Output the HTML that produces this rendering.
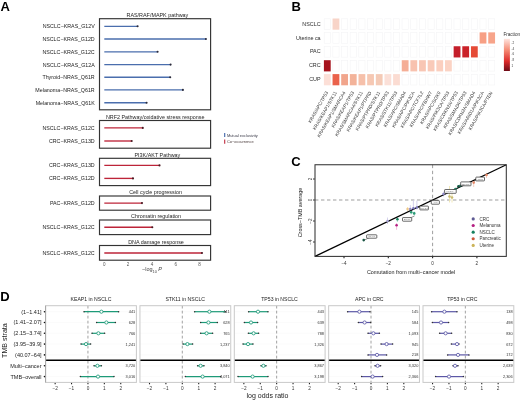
<!DOCTYPE html>
<html><head><meta charset="utf-8"><title>Figure</title>
<style>
html,body{margin:0;padding:0;background:#fff;width:520px;height:400px;overflow:hidden}
svg{display:block}
text{font-family:"Liberation Sans", Arial, Helvetica, sans-serif}
</style></head><body>
<svg width="520" height="400" viewBox="0 0 520 400">
<rect x="0" y="0" width="520" height="400" fill="#fff"/>
<text x="0.5" y="11.2" font-size="13" text-anchor="start" fill="#000" font-weight="bold">A</text>
<text x="291.5" y="11" font-size="13" text-anchor="start" fill="#000" font-weight="bold">B</text>
<text x="291.2" y="166.4" font-size="13" text-anchor="start" fill="#000" font-weight="bold">C</text>
<text x="0.2" y="301.3" font-size="13" text-anchor="start" fill="#000" font-weight="bold">D</text>
<text x="157.4" y="16.91" font-size="5.4" text-anchor="middle" fill="#1e1e1e" stroke="#1e1e1e" stroke-width="0">RAS/RAF/MAPK pathway</text>
<rect x="99.5" y="18.7" width="111.1" height="91.1" fill="#fff" stroke="#333" stroke-width="1.15"/>
<text x="94.7" y="28.21" font-size="5.3" text-anchor="end" fill="#222" stroke="#222" stroke-width="0">NSCLC−KRAS_G12V</text>
<line x1="104.3" y1="26.3" x2="137.6" y2="26.3" stroke="#4a6ead" stroke-width="1.35"/>
<circle cx="137.6" cy="26.3" r="1.05" fill="#2a2a3a" stroke="none" stroke-width="0"/>
<text x="94.7" y="40.91" font-size="5.3" text-anchor="end" fill="#222" stroke="#222" stroke-width="0">NSCLC−KRAS_G12D</text>
<line x1="104.3" y1="39" x2="205.9" y2="39" stroke="#4a6ead" stroke-width="1.35"/>
<circle cx="205.9" cy="39" r="1.05" fill="#2a2a3a" stroke="none" stroke-width="0"/>
<text x="94.7" y="53.71" font-size="5.3" text-anchor="end" fill="#222" stroke="#222" stroke-width="0">NSCLC−KRAS_G12C</text>
<line x1="104.3" y1="51.8" x2="157.6" y2="51.8" stroke="#4a6ead" stroke-width="1.35"/>
<circle cx="157.6" cy="51.8" r="1.05" fill="#2a2a3a" stroke="none" stroke-width="0"/>
<text x="94.7" y="66.51" font-size="5.3" text-anchor="end" fill="#222" stroke="#222" stroke-width="0">NSCLC−KRAS_G12A</text>
<line x1="104.3" y1="64.6" x2="170.6" y2="64.6" stroke="#4a6ead" stroke-width="1.35"/>
<circle cx="170.6" cy="64.6" r="1.05" fill="#2a2a3a" stroke="none" stroke-width="0"/>
<text x="94.7" y="79.11" font-size="5.3" text-anchor="end" fill="#222" stroke="#222" stroke-width="0">Thyroid−NRAS_Q61R</text>
<line x1="104.3" y1="77.2" x2="170.2" y2="77.2" stroke="#4a6ead" stroke-width="1.35"/>
<circle cx="170.2" cy="77.2" r="1.05" fill="#2a2a3a" stroke="none" stroke-width="0"/>
<text x="94.7" y="91.81" font-size="5.3" text-anchor="end" fill="#222" stroke="#222" stroke-width="0">Melanoma−NRAS_Q61R</text>
<line x1="104.3" y1="89.9" x2="182.9" y2="89.9" stroke="#4a6ead" stroke-width="1.35"/>
<circle cx="182.9" cy="89.9" r="1.05" fill="#2a2a3a" stroke="none" stroke-width="0"/>
<text x="94.7" y="104.61" font-size="5.3" text-anchor="end" fill="#222" stroke="#222" stroke-width="0">Melanoma−NRAS_Q61K</text>
<line x1="104.3" y1="102.7" x2="146.6" y2="102.7" stroke="#4a6ead" stroke-width="1.35"/>
<circle cx="146.6" cy="102.7" r="1.05" fill="#2a2a3a" stroke="none" stroke-width="0"/>
<text x="155.2" y="118.71" font-size="5.4" text-anchor="middle" fill="#1e1e1e" stroke="#1e1e1e" stroke-width="0">NRF2 Pathway/oxidative stress response</text>
<rect x="99.5" y="120.5" width="111.1" height="27.7" fill="#fff" stroke="#333" stroke-width="1.15"/>
<text x="94.7" y="129.81" font-size="5.3" text-anchor="end" fill="#222" stroke="#222" stroke-width="0">NSCLC−KRAS_G12C</text>
<line x1="104.3" y1="127.9" x2="142.8" y2="127.9" stroke="#bd2439" stroke-width="1.35"/>
<circle cx="142.8" cy="127.9" r="1.05" fill="#4a1a22" stroke="none" stroke-width="0"/>
<text x="94.7" y="142.91" font-size="5.3" text-anchor="end" fill="#222" stroke="#222" stroke-width="0">CRC−KRAS_G13D</text>
<line x1="104.3" y1="141" x2="131.7" y2="141" stroke="#bd2439" stroke-width="1.35"/>
<circle cx="131.7" cy="141" r="1.05" fill="#4a1a22" stroke="none" stroke-width="0"/>
<text x="157.4" y="156.51" font-size="5.4" text-anchor="middle" fill="#1e1e1e" stroke="#1e1e1e" stroke-width="0">PI3K/AKT Pathway</text>
<rect x="99.5" y="158.3" width="111.1" height="27.3" fill="#fff" stroke="#333" stroke-width="1.15"/>
<text x="94.7" y="167.31" font-size="5.3" text-anchor="end" fill="#222" stroke="#222" stroke-width="0">CRC−KRAS_G13D</text>
<line x1="104.3" y1="165.4" x2="159.5" y2="165.4" stroke="#bd2439" stroke-width="1.35"/>
<circle cx="159.5" cy="165.4" r="1.05" fill="#4a1a22" stroke="none" stroke-width="0"/>
<text x="94.7" y="180.31" font-size="5.3" text-anchor="end" fill="#222" stroke="#222" stroke-width="0">CRC−KRAS_G12D</text>
<line x1="104.3" y1="178.4" x2="133" y2="178.4" stroke="#bd2439" stroke-width="1.35"/>
<circle cx="133" cy="178.4" r="1.05" fill="#4a1a22" stroke="none" stroke-width="0"/>
<text x="155.6" y="194.21" font-size="5.4" text-anchor="middle" fill="#1e1e1e" stroke="#1e1e1e" stroke-width="0">Cell cycle progression</text>
<rect x="99.5" y="196" width="111.1" height="14.2" fill="#fff" stroke="#333" stroke-width="1.15"/>
<text x="94.7" y="205.01" font-size="5.3" text-anchor="end" fill="#222" stroke="#222" stroke-width="0">PAC−KRAS_G12D</text>
<line x1="104.3" y1="203.1" x2="142" y2="203.1" stroke="#bd2439" stroke-width="1.35"/>
<circle cx="142" cy="203.1" r="1.05" fill="#4a1a22" stroke="none" stroke-width="0"/>
<text x="156.1" y="218.21" font-size="5.4" text-anchor="middle" fill="#1e1e1e" stroke="#1e1e1e" stroke-width="0">Chromatin regulation</text>
<rect x="99.5" y="220" width="111.1" height="14.6" fill="#fff" stroke="#333" stroke-width="1.15"/>
<text x="94.7" y="229.11" font-size="5.3" text-anchor="end" fill="#222" stroke="#222" stroke-width="0">NSCLC−KRAS_G12C</text>
<line x1="104.3" y1="227.2" x2="152.3" y2="227.2" stroke="#bd2439" stroke-width="1.35"/>
<circle cx="152.3" cy="227.2" r="1.05" fill="#4a1a22" stroke="none" stroke-width="0"/>
<text x="156" y="243.71" font-size="5.4" text-anchor="middle" fill="#1e1e1e" stroke="#1e1e1e" stroke-width="0">DNA damage response</text>
<rect x="99.5" y="245.5" width="111.1" height="14.7" fill="#fff" stroke="#333" stroke-width="1.15"/>
<text x="94.7" y="254.91" font-size="5.3" text-anchor="end" fill="#222" stroke="#222" stroke-width="0">NSCLC−KRAS_G12C</text>
<line x1="104.3" y1="253" x2="202" y2="253" stroke="#bd2439" stroke-width="1.35"/>
<circle cx="202" cy="253" r="1.05" fill="#4a1a22" stroke="none" stroke-width="0"/>
<text x="104.3" y="265.52" font-size="4.5" text-anchor="middle" fill="#555" stroke="#555" stroke-width="0">0</text>
<text x="128.1" y="265.52" font-size="4.5" text-anchor="middle" fill="#555" stroke="#555" stroke-width="0">2</text>
<text x="151.9" y="265.52" font-size="4.5" text-anchor="middle" fill="#555" stroke="#555" stroke-width="0">4</text>
<text x="175.7" y="265.52" font-size="4.5" text-anchor="middle" fill="#555" stroke="#555" stroke-width="0">6</text>
<text x="199.5" y="265.52" font-size="4.5" text-anchor="middle" fill="#555" stroke="#555" stroke-width="0">8</text>
<text x="152" y="271.42" font-size="5.5" text-anchor="middle" fill="#444" stroke="#444" stroke-width="0">−log<tspan font-size="3.8" dy="1.3">10</tspan><tspan dy="-1.3" font-style="italic"> P</tspan></text>
<line x1="224.7" y1="132.9" x2="224.7" y2="137.1" stroke="#3f64a8" stroke-width="1.1"/>
<line x1="224.7" y1="139.5" x2="224.7" y2="143.7" stroke="#c02a3c" stroke-width="1.1"/>
<text x="226.9" y="136.52" font-size="3.95" text-anchor="start" fill="#3a3a48" stroke="#3a3a48" stroke-width="0">Mutual exclusivity</text>
<text x="226.9" y="142.82" font-size="3.95" text-anchor="start" fill="#483a3a" stroke="#483a3a" stroke-width="0">Co−occurrence</text>
<text x="320.6" y="25.74" font-size="5.4" text-anchor="end" fill="#2a2a2a" stroke="#2a2a2a" stroke-width="0">NSCLC</text>
<text x="320.6" y="39.59" font-size="5.4" text-anchor="end" fill="#2a2a2a" stroke="#2a2a2a" stroke-width="0">Uterine ca</text>
<text x="320.6" y="53.49" font-size="5.4" text-anchor="end" fill="#2a2a2a" stroke="#2a2a2a" stroke-width="0">PAC</text>
<text x="320.6" y="67.44" font-size="5.4" text-anchor="end" fill="#2a2a2a" stroke="#2a2a2a" stroke-width="0">CRC</text>
<text x="320.6" y="81.34" font-size="5.4" text-anchor="end" fill="#2a2a2a" stroke="#2a2a2a" stroke-width="0">CUP</text>
<rect x="324.2" y="18.8" width="6.2" height="10.6" fill="#fff" stroke="#f4f4f6" stroke-width="0.6"/>
<rect x="332.55" y="18.5" width="6.8" height="11.2" fill="#f8d4c8" stroke="none" stroke-width="0"/>
<rect x="341.5" y="18.8" width="6.2" height="10.6" fill="#fff" stroke="#f4f4f6" stroke-width="0.6"/>
<rect x="350.15" y="18.8" width="6.2" height="10.6" fill="#fff" stroke="#f4f4f6" stroke-width="0.6"/>
<rect x="358.8" y="18.8" width="6.2" height="10.6" fill="#fff" stroke="#f4f4f6" stroke-width="0.6"/>
<rect x="367.45" y="18.8" width="6.2" height="10.6" fill="#fff" stroke="#f4f4f6" stroke-width="0.6"/>
<rect x="376.1" y="18.8" width="6.2" height="10.6" fill="#fff" stroke="#f4f4f6" stroke-width="0.6"/>
<rect x="384.75" y="18.8" width="6.2" height="10.6" fill="#fff" stroke="#f4f4f6" stroke-width="0.6"/>
<rect x="393.4" y="18.8" width="6.2" height="10.6" fill="#fff" stroke="#f4f4f6" stroke-width="0.6"/>
<rect x="402.05" y="18.8" width="6.2" height="10.6" fill="#fff" stroke="#f4f4f6" stroke-width="0.6"/>
<rect x="410.7" y="18.8" width="6.2" height="10.6" fill="#fff" stroke="#f4f4f6" stroke-width="0.6"/>
<rect x="419.35" y="18.8" width="6.2" height="10.6" fill="#fff" stroke="#f4f4f6" stroke-width="0.6"/>
<rect x="428" y="18.8" width="6.2" height="10.6" fill="#fff" stroke="#f4f4f6" stroke-width="0.6"/>
<rect x="436.65" y="18.8" width="6.2" height="10.6" fill="#fff" stroke="#f4f4f6" stroke-width="0.6"/>
<rect x="445.3" y="18.8" width="6.2" height="10.6" fill="#fff" stroke="#f4f4f6" stroke-width="0.6"/>
<rect x="453.95" y="18.8" width="6.2" height="10.6" fill="#fff" stroke="#f4f4f6" stroke-width="0.6"/>
<rect x="462.6" y="18.8" width="6.2" height="10.6" fill="#fff" stroke="#f4f4f6" stroke-width="0.6"/>
<rect x="471.25" y="18.8" width="6.2" height="10.6" fill="#fff" stroke="#f4f4f6" stroke-width="0.6"/>
<rect x="479.9" y="18.8" width="6.2" height="10.6" fill="#fff" stroke="#f4f4f6" stroke-width="0.6"/>
<rect x="488.55" y="18.8" width="6.2" height="10.6" fill="#fff" stroke="#f4f4f6" stroke-width="0.6"/>
<rect x="324.2" y="32.65" width="6.2" height="10.6" fill="#fff" stroke="#f4f4f6" stroke-width="0.6"/>
<rect x="332.85" y="32.65" width="6.2" height="10.6" fill="#fff" stroke="#f4f4f6" stroke-width="0.6"/>
<rect x="341.5" y="32.65" width="6.2" height="10.6" fill="#fff" stroke="#f4f4f6" stroke-width="0.6"/>
<rect x="350.15" y="32.65" width="6.2" height="10.6" fill="#fff" stroke="#f4f4f6" stroke-width="0.6"/>
<rect x="358.8" y="32.65" width="6.2" height="10.6" fill="#fff" stroke="#f4f4f6" stroke-width="0.6"/>
<rect x="367.45" y="32.65" width="6.2" height="10.6" fill="#fff" stroke="#f4f4f6" stroke-width="0.6"/>
<rect x="376.1" y="32.65" width="6.2" height="10.6" fill="#fff" stroke="#f4f4f6" stroke-width="0.6"/>
<rect x="384.75" y="32.65" width="6.2" height="10.6" fill="#fff" stroke="#f4f4f6" stroke-width="0.6"/>
<rect x="393.4" y="32.65" width="6.2" height="10.6" fill="#fff" stroke="#f4f4f6" stroke-width="0.6"/>
<rect x="402.05" y="32.65" width="6.2" height="10.6" fill="#fff" stroke="#f4f4f6" stroke-width="0.6"/>
<rect x="410.7" y="32.65" width="6.2" height="10.6" fill="#fff" stroke="#f4f4f6" stroke-width="0.6"/>
<rect x="419.35" y="32.65" width="6.2" height="10.6" fill="#fff" stroke="#f4f4f6" stroke-width="0.6"/>
<rect x="428" y="32.65" width="6.2" height="10.6" fill="#fff" stroke="#f4f4f6" stroke-width="0.6"/>
<rect x="436.65" y="32.65" width="6.2" height="10.6" fill="#fff" stroke="#f4f4f6" stroke-width="0.6"/>
<rect x="445.3" y="32.65" width="6.2" height="10.6" fill="#fff" stroke="#f4f4f6" stroke-width="0.6"/>
<rect x="453.95" y="32.65" width="6.2" height="10.6" fill="#fff" stroke="#f4f4f6" stroke-width="0.6"/>
<rect x="462.6" y="32.65" width="6.2" height="10.6" fill="#fff" stroke="#f4f4f6" stroke-width="0.6"/>
<rect x="471.25" y="32.65" width="6.2" height="10.6" fill="#fff" stroke="#f4f4f6" stroke-width="0.6"/>
<rect x="479.6" y="32.35" width="6.8" height="11.2" fill="#f79f84" stroke="none" stroke-width="0"/>
<rect x="488.25" y="32.35" width="6.8" height="11.2" fill="#f7a48a" stroke="none" stroke-width="0"/>
<rect x="324.2" y="46.55" width="6.2" height="10.6" fill="#fff" stroke="#f4f4f6" stroke-width="0.6"/>
<rect x="332.85" y="46.55" width="6.2" height="10.6" fill="#fff" stroke="#f4f4f6" stroke-width="0.6"/>
<rect x="341.5" y="46.55" width="6.2" height="10.6" fill="#fff" stroke="#f4f4f6" stroke-width="0.6"/>
<rect x="350.15" y="46.55" width="6.2" height="10.6" fill="#fff" stroke="#f4f4f6" stroke-width="0.6"/>
<rect x="358.8" y="46.55" width="6.2" height="10.6" fill="#fff" stroke="#f4f4f6" stroke-width="0.6"/>
<rect x="367.45" y="46.55" width="6.2" height="10.6" fill="#fff" stroke="#f4f4f6" stroke-width="0.6"/>
<rect x="376.1" y="46.55" width="6.2" height="10.6" fill="#fff" stroke="#f4f4f6" stroke-width="0.6"/>
<rect x="384.75" y="46.55" width="6.2" height="10.6" fill="#fff" stroke="#f4f4f6" stroke-width="0.6"/>
<rect x="393.4" y="46.55" width="6.2" height="10.6" fill="#fff" stroke="#f4f4f6" stroke-width="0.6"/>
<rect x="402.05" y="46.55" width="6.2" height="10.6" fill="#fff" stroke="#f4f4f6" stroke-width="0.6"/>
<rect x="410.7" y="46.55" width="6.2" height="10.6" fill="#fff" stroke="#f4f4f6" stroke-width="0.6"/>
<rect x="419.35" y="46.55" width="6.2" height="10.6" fill="#fff" stroke="#f4f4f6" stroke-width="0.6"/>
<rect x="428" y="46.55" width="6.2" height="10.6" fill="#fff" stroke="#f4f4f6" stroke-width="0.6"/>
<rect x="436.65" y="46.55" width="6.2" height="10.6" fill="#fff" stroke="#f4f4f6" stroke-width="0.6"/>
<rect x="445.3" y="46.55" width="6.2" height="10.6" fill="#fff" stroke="#f4f4f6" stroke-width="0.6"/>
<rect x="453.65" y="46.25" width="6.8" height="11.2" fill="#c41e2a" stroke="none" stroke-width="0"/>
<rect x="462.3" y="46.25" width="6.8" height="11.2" fill="#ca2229" stroke="none" stroke-width="0"/>
<rect x="470.95" y="46.25" width="6.8" height="11.2" fill="#e54a36" stroke="none" stroke-width="0"/>
<rect x="479.9" y="46.55" width="6.2" height="10.6" fill="#fff" stroke="#f4f4f6" stroke-width="0.6"/>
<rect x="488.55" y="46.55" width="6.2" height="10.6" fill="#fff" stroke="#f4f4f6" stroke-width="0.6"/>
<rect x="323.9" y="60.2" width="6.8" height="11.2" fill="#a6131d" stroke="none" stroke-width="0"/>
<rect x="332.85" y="60.5" width="6.2" height="10.6" fill="#fff" stroke="#f4f4f6" stroke-width="0.6"/>
<rect x="341.5" y="60.5" width="6.2" height="10.6" fill="#fff" stroke="#f4f4f6" stroke-width="0.6"/>
<rect x="350.15" y="60.5" width="6.2" height="10.6" fill="#fff" stroke="#f4f4f6" stroke-width="0.6"/>
<rect x="358.8" y="60.5" width="6.2" height="10.6" fill="#fff" stroke="#f4f4f6" stroke-width="0.6"/>
<rect x="367.45" y="60.5" width="6.2" height="10.6" fill="#fff" stroke="#f4f4f6" stroke-width="0.6"/>
<rect x="376.1" y="60.5" width="6.2" height="10.6" fill="#fff" stroke="#f4f4f6" stroke-width="0.6"/>
<rect x="384.75" y="60.5" width="6.2" height="10.6" fill="#fff" stroke="#f4f4f6" stroke-width="0.6"/>
<rect x="393.4" y="60.5" width="6.2" height="10.6" fill="#fff" stroke="#f4f4f6" stroke-width="0.6"/>
<rect x="401.75" y="60.2" width="6.8" height="11.2" fill="#f5ae96" stroke="none" stroke-width="0"/>
<rect x="410.4" y="60.2" width="6.8" height="11.2" fill="#f8c2af" stroke="none" stroke-width="0"/>
<rect x="419.05" y="60.2" width="6.8" height="11.2" fill="#f8c6b4" stroke="none" stroke-width="0"/>
<rect x="427.7" y="60.2" width="6.8" height="11.2" fill="#f9cab9" stroke="none" stroke-width="0"/>
<rect x="436.35" y="60.2" width="6.8" height="11.2" fill="#fbcfbf" stroke="none" stroke-width="0"/>
<rect x="445" y="60.2" width="6.8" height="11.2" fill="#fbd3c4" stroke="none" stroke-width="0"/>
<rect x="453.95" y="60.5" width="6.2" height="10.6" fill="#fff" stroke="#f4f4f6" stroke-width="0.6"/>
<rect x="462.6" y="60.5" width="6.2" height="10.6" fill="#fff" stroke="#f4f4f6" stroke-width="0.6"/>
<rect x="471.25" y="60.5" width="6.2" height="10.6" fill="#fff" stroke="#f4f4f6" stroke-width="0.6"/>
<rect x="479.9" y="60.5" width="6.2" height="10.6" fill="#fff" stroke="#f4f4f6" stroke-width="0.6"/>
<rect x="488.55" y="60.5" width="6.2" height="10.6" fill="#fff" stroke="#f4f4f6" stroke-width="0.6"/>
<rect x="323.9" y="74.1" width="6.8" height="11.2" fill="#fcdfd7" stroke="none" stroke-width="0"/>
<rect x="332.55" y="74.1" width="6.8" height="11.2" fill="#ea624b" stroke="none" stroke-width="0"/>
<rect x="341.2" y="74.1" width="6.8" height="11.2" fill="#f1a58c" stroke="none" stroke-width="0"/>
<rect x="349.85" y="74.1" width="6.8" height="11.2" fill="#f3b39a" stroke="none" stroke-width="0"/>
<rect x="358.5" y="74.1" width="6.8" height="11.2" fill="#f6c0aa" stroke="none" stroke-width="0"/>
<rect x="367.15" y="74.1" width="6.8" height="11.2" fill="#f6c8b3" stroke="none" stroke-width="0"/>
<rect x="375.8" y="74.1" width="6.8" height="11.2" fill="#f4cab6" stroke="none" stroke-width="0"/>
<rect x="384.45" y="74.1" width="6.8" height="11.2" fill="#fbe0d8" stroke="none" stroke-width="0"/>
<rect x="393.1" y="74.1" width="6.8" height="11.2" fill="#fbdcd2" stroke="none" stroke-width="0"/>
<rect x="402.05" y="74.4" width="6.2" height="10.6" fill="#fff" stroke="#f4f4f6" stroke-width="0.6"/>
<rect x="410.7" y="74.4" width="6.2" height="10.6" fill="#fff" stroke="#f4f4f6" stroke-width="0.6"/>
<rect x="419.35" y="74.4" width="6.2" height="10.6" fill="#fff" stroke="#f4f4f6" stroke-width="0.6"/>
<rect x="428" y="74.4" width="6.2" height="10.6" fill="#fff" stroke="#f4f4f6" stroke-width="0.6"/>
<rect x="436.65" y="74.4" width="6.2" height="10.6" fill="#fff" stroke="#f4f4f6" stroke-width="0.6"/>
<rect x="445.3" y="74.4" width="6.2" height="10.6" fill="#fff" stroke="#f4f4f6" stroke-width="0.6"/>
<rect x="453.95" y="74.4" width="6.2" height="10.6" fill="#fff" stroke="#f4f4f6" stroke-width="0.6"/>
<rect x="462.6" y="74.4" width="6.2" height="10.6" fill="#fff" stroke="#f4f4f6" stroke-width="0.6"/>
<rect x="471.25" y="74.4" width="6.2" height="10.6" fill="#fff" stroke="#f4f4f6" stroke-width="0.6"/>
<rect x="479.9" y="74.4" width="6.2" height="10.6" fill="#fff" stroke="#f4f4f6" stroke-width="0.6"/>
<rect x="488.55" y="74.4" width="6.2" height="10.6" fill="#fff" stroke="#f4f4f6" stroke-width="0.6"/>
<text x="327" y="93.4" font-size="4.6" text-anchor="end" fill="#333" transform="rotate(-60 327 91.8)" stroke="#333" stroke-width="0">KRAS/APC/TP53</text>
<text x="335.65" y="93.4" font-size="4.6" text-anchor="end" fill="#333" transform="rotate(-60 335.65 91.8)" stroke="#333" stroke-width="0">KRAS/KEAP1/STK11</text>
<text x="344.3" y="93.4" font-size="4.6" text-anchor="end" fill="#333" transform="rotate(-60 344.3 91.8)" stroke="#333" stroke-width="0">KRAS/KEAP1/SMARCA4</text>
<text x="352.95" y="93.4" font-size="4.6" text-anchor="end" fill="#333" transform="rotate(-60 352.95 91.8)" stroke="#333" stroke-width="0">KRAS/KEAP1/TP53</text>
<text x="361.6" y="93.4" font-size="4.6" text-anchor="end" fill="#333" transform="rotate(-60 361.6 91.8)" stroke="#333" stroke-width="0">KRAS/SMARCA4/STK11</text>
<text x="370.25" y="93.4" font-size="4.6" text-anchor="end" fill="#333" transform="rotate(-60 370.25 91.8)" stroke="#333" stroke-width="0">KRAS/KEAP1/PTPRD</text>
<text x="378.9" y="93.4" font-size="4.6" text-anchor="end" fill="#333" transform="rotate(-60 378.9 91.8)" stroke="#333" stroke-width="0">KRAS/PTPRD/STK11</text>
<text x="387.55" y="93.4" font-size="4.6" text-anchor="end" fill="#333" transform="rotate(-60 387.55 91.8)" stroke="#333" stroke-width="0">KRAS/PTPRD/TP53</text>
<text x="396.2" y="93.4" font-size="4.6" text-anchor="end" fill="#333" transform="rotate(-60 396.2 91.8)" stroke="#333" stroke-width="0">KRAS/STK11/TP53</text>
<text x="404.85" y="93.4" font-size="4.6" text-anchor="end" fill="#333" transform="rotate(-60 404.85 91.8)" stroke="#333" stroke-width="0">KRAS/APC/SMAD4</text>
<text x="413.5" y="93.4" font-size="4.6" text-anchor="end" fill="#333" transform="rotate(-60 413.5 91.8)" stroke="#333" stroke-width="0">KRAS/APC/PIK3CA</text>
<text x="422.15" y="93.4" font-size="4.6" text-anchor="end" fill="#333" transform="rotate(-60 422.15 91.8)" stroke="#333" stroke-width="0">KRAS/APC/TCF7L2</text>
<text x="430.8" y="93.4" font-size="4.6" text-anchor="end" fill="#333" transform="rotate(-60 430.8 91.8)" stroke="#333" stroke-width="0">KRAS/APC/FBXW7</text>
<text x="439.45" y="93.4" font-size="4.6" text-anchor="end" fill="#333" transform="rotate(-60 439.45 91.8)" stroke="#333" stroke-width="0">KRAS/APC/SOX9</text>
<text x="448.1" y="93.4" font-size="4.6" text-anchor="end" fill="#333" transform="rotate(-60 448.1 91.8)" stroke="#333" stroke-width="0">KRAS/PIK3CA/TP53</text>
<text x="456.75" y="93.4" font-size="4.6" text-anchor="end" fill="#333" transform="rotate(-60 456.75 91.8)" stroke="#333" stroke-width="0">KRAS/CDKN2A/TP53</text>
<text x="465.4" y="93.4" font-size="4.6" text-anchor="end" fill="#333" transform="rotate(-60 465.4 91.8)" stroke="#333" stroke-width="0">KRAS/SMAD4/TP53</text>
<text x="474.05" y="93.4" font-size="4.6" text-anchor="end" fill="#333" transform="rotate(-60 474.05 91.8)" stroke="#333" stroke-width="0">KRAS/CDKN2A/SMAD4</text>
<text x="482.7" y="93.4" font-size="4.6" text-anchor="end" fill="#333" transform="rotate(-60 482.7 91.8)" stroke="#333" stroke-width="0">KRAS/ARID1A/PIK3CA</text>
<text x="491.35" y="93.4" font-size="4.6" text-anchor="end" fill="#333" transform="rotate(-60 491.35 91.8)" stroke="#333" stroke-width="0">KRAS/PIK3CA/PTEN</text>
<defs><linearGradient id="gb" x1="0" y1="0" x2="0" y2="1"><stop offset="0" stop-color="#fee5df"/><stop offset="0.35" stop-color="#f58b75"/><stop offset="0.7" stop-color="#dc2a2a"/><stop offset="1" stop-color="#6d0a16"/></linearGradient></defs>
<text x="503.4" y="36.26" font-size="4.6" text-anchor="start" fill="#333" stroke="#333" stroke-width="0">Fraction</text>
<rect x="503.9" y="38.8" width="6" height="32.2" fill="url(#gb)" stroke="none" stroke-width="0"/>
<line x1="509.9" y1="42.9" x2="510.8" y2="42.9" stroke="#fff" stroke-width="0.5"/>
<text x="511.6" y="43.98" font-size="3" text-anchor="start" fill="#333" stroke="#333" stroke-width="0">.2</text>
<line x1="509.9" y1="48.7" x2="510.8" y2="48.7" stroke="#fff" stroke-width="0.5"/>
<text x="511.6" y="49.78" font-size="3" text-anchor="start" fill="#333" stroke="#333" stroke-width="0">.4</text>
<line x1="509.9" y1="54.4" x2="510.8" y2="54.4" stroke="#fff" stroke-width="0.5"/>
<text x="511.6" y="55.48" font-size="3" text-anchor="start" fill="#333" stroke="#333" stroke-width="0">.6</text>
<line x1="509.9" y1="60.1" x2="510.8" y2="60.1" stroke="#fff" stroke-width="0.5"/>
<text x="511.6" y="61.18" font-size="3" text-anchor="start" fill="#333" stroke="#333" stroke-width="0">.8</text>
<line x1="509.9" y1="65.9" x2="510.8" y2="65.9" stroke="#fff" stroke-width="0.5"/>
<text x="511.6" y="66.98" font-size="3" text-anchor="start" fill="#333" stroke="#333" stroke-width="0">1</text>
<rect x="315" y="164.75" width="191.3" height="91.65" fill="#fff" stroke="none" stroke-width="0"/>
<line x1="432.6" y1="164.75" x2="432.6" y2="256.4" stroke="#999" stroke-width="0.95" stroke-dasharray="3.4 2.6"/>
<line x1="315" y1="200" x2="506.3" y2="200" stroke="#999" stroke-width="0.95" stroke-dasharray="3.4 2.6"/>
<line x1="387.5" y1="217.5" x2="387.5" y2="224" stroke="#d2cfeb" stroke-width="0.9"/>
<line x1="396.6" y1="223" x2="396.6" y2="229.8" stroke="#f0b4d8" stroke-width="0.9"/>
<line x1="397.4" y1="216.8" x2="397.4" y2="222" stroke="#a8dccb" stroke-width="0.9"/>
<line x1="407.6" y1="207" x2="407.6" y2="211" stroke="#f6dfb0" stroke-width="0.9"/>
<line x1="410.3" y1="205" x2="410.3" y2="211" stroke="#d7d3ee" stroke-width="0.9"/>
<line x1="413.4" y1="200.2" x2="413.4" y2="209.8" stroke="#cfcbea" stroke-width="0.9"/>
<line x1="416.9" y1="200.5" x2="416.9" y2="209.5" stroke="#cfcbea" stroke-width="0.9"/>
<line x1="411.2" y1="210" x2="411.2" y2="214.5" stroke="#a8dccb" stroke-width="0.9"/>
<line x1="414.2" y1="211.5" x2="414.2" y2="215.5" stroke="#a8dccb" stroke-width="0.9"/>
<line x1="363.7" y1="239" x2="363.7" y2="241.5" stroke="#c8eadf" stroke-width="0.9"/>
<line x1="443.5" y1="191.5" x2="443.5" y2="196.5" stroke="#d7d3ee" stroke-width="0.9"/>
<line x1="449.5" y1="186" x2="449.5" y2="202.5" stroke="#eee4b0" stroke-width="0.9"/>
<line x1="452" y1="193" x2="452" y2="202.5" stroke="#eee4b0" stroke-width="0.9"/>
<line x1="455.5" y1="188" x2="455.5" y2="190.5" stroke="#a8dccb" stroke-width="0.9"/>
<line x1="458.5" y1="185" x2="458.5" y2="187.5" stroke="#a8dccb" stroke-width="0.9"/>
<line x1="460.5" y1="184.8" x2="460.5" y2="187" stroke="#a8dccb" stroke-width="0.9"/>
<line x1="473.7" y1="180" x2="473.7" y2="187" stroke="#f6cdbd" stroke-width="0.9"/>
<line x1="486.5" y1="173" x2="486.5" y2="178" stroke="#f6cdbd" stroke-width="0.9"/>
<line x1="315" y1="256.4" x2="506.3" y2="164.75" stroke="#000" stroke-width="1.3"/>
<circle cx="387.5" cy="221" r="1.3" fill="#a9a4d4" stroke="none" stroke-width="0"/>
<circle cx="396.6" cy="225.3" r="1.3" fill="#b51f82" stroke="none" stroke-width="0"/>
<circle cx="397.4" cy="219.3" r="1.3" fill="#16805f" stroke="none" stroke-width="0"/>
<circle cx="407.6" cy="209" r="1.3" fill="#efc98a" stroke="none" stroke-width="0"/>
<circle cx="410.3" cy="209" r="1.3" fill="#8d88c4" stroke="none" stroke-width="0"/>
<circle cx="413.4" cy="208.2" r="1.3" fill="#7c77bb" stroke="none" stroke-width="0"/>
<circle cx="416.9" cy="207.5" r="1.3" fill="#7c77bb" stroke="none" stroke-width="0"/>
<circle cx="411.2" cy="212.2" r="1.3" fill="#2a9a76" stroke="none" stroke-width="0"/>
<circle cx="414.2" cy="213.4" r="1.3" fill="#2a9a76" stroke="none" stroke-width="0"/>
<circle cx="363.7" cy="240.1" r="1.3" fill="#1a5e4a" stroke="none" stroke-width="0"/>
<circle cx="443.5" cy="194" r="1.3" fill="#8d88c4" stroke="none" stroke-width="0"/>
<circle cx="449.5" cy="196.5" r="1.3" fill="#c9bb70" stroke="none" stroke-width="0"/>
<circle cx="452" cy="197.5" r="1.3" fill="#c9bb70" stroke="none" stroke-width="0"/>
<circle cx="455.5" cy="189" r="1.3" fill="#1f7e62" stroke="none" stroke-width="0"/>
<circle cx="458.5" cy="186.3" r="1.3" fill="#155a46" stroke="none" stroke-width="0"/>
<circle cx="460.5" cy="185.8" r="1.3" fill="#155a46" stroke="none" stroke-width="0"/>
<circle cx="473.7" cy="182.6" r="1.3" fill="#e48a6a" stroke="none" stroke-width="0"/>
<circle cx="486.5" cy="175" r="1.3" fill="#e48a6a" stroke="none" stroke-width="0"/>
<line x1="363.7" y1="240.4" x2="371.7" y2="236.5" stroke="#222" stroke-width="0.5"/>
<line x1="414.5" y1="216" x2="407.1" y2="219.4" stroke="#222" stroke-width="0.5"/>
<line x1="418" y1="207.5" x2="424.1" y2="208" stroke="#222" stroke-width="0.5"/>
<line x1="430" y1="201" x2="435.35" y2="202.4" stroke="#222" stroke-width="0.5"/>
<line x1="444.6" y1="191" x2="450.4" y2="191.4" stroke="#222" stroke-width="0.5"/>
<line x1="460" y1="186" x2="465.85" y2="183.85" stroke="#222" stroke-width="0.5"/>
<line x1="474" y1="181" x2="480.15" y2="179" stroke="#222" stroke-width="0.5"/>
<rect x="366.6" y="234.8" width="10.2" height="3.4" fill="#fff" stroke="#2a2a2a" stroke-width="0.7" rx="0.6"/>
<text x="371.7" y="237.15" font-size="2.2" text-anchor="middle" fill="#777" stroke="#777" stroke-width="0">KEAP1</text>
<rect x="402.5" y="217.6" width="9.2" height="3.6" fill="#fff" stroke="#2a2a2a" stroke-width="0.7" rx="0.6"/>
<text x="407.1" y="220.15" font-size="2.2" text-anchor="middle" fill="#777" stroke="#777" stroke-width="0">STK11</text>
<rect x="419.8" y="206.1" width="8.6" height="3.8" fill="#fff" stroke="#2a2a2a" stroke-width="0.7" rx="0.6"/>
<text x="424.1" y="208.85" font-size="2.2" text-anchor="middle" fill="#777" stroke="#777" stroke-width="0">SMAD4</text>
<rect x="431.3" y="200.6" width="8.1" height="3.6" fill="#fff" stroke="#2a2a2a" stroke-width="0.7" rx="0.6"/>
<text x="435.35" y="203.15" font-size="2.2" text-anchor="middle" fill="#777" stroke="#777" stroke-width="0">APC</text>
<rect x="444.6" y="189.5" width="11.6" height="3.8" fill="#fff" stroke="#2a2a2a" stroke-width="0.7" rx="0.6"/>
<text x="450.4" y="192.25" font-size="2.2" text-anchor="middle" fill="#777" stroke="#777" stroke-width="0">PIK3CA</text>
<rect x="460.7" y="181.9" width="10.3" height="3.9" fill="#fff" stroke="#2a2a2a" stroke-width="0.7" rx="0.6"/>
<text x="465.85" y="184.75" font-size="2.2" text-anchor="middle" fill="#777" stroke="#777" stroke-width="0">CDKN2A</text>
<rect x="475.8" y="177.1" width="8.7" height="3.8" fill="#fff" stroke="#2a2a2a" stroke-width="0.7" rx="0.6"/>
<text x="480.15" y="179.85" font-size="2.2" text-anchor="middle" fill="#777" stroke="#777" stroke-width="0">TP53</text>
<rect x="315" y="164.75" width="191.3" height="91.65" fill="none" stroke="#333" stroke-width="1.05"/>
<line x1="344" y1="256.7" x2="344" y2="258.3" stroke="#222" stroke-width="1.1"/>
<text x="344" y="264.86" font-size="4.6" text-anchor="middle" fill="#333" stroke="#333" stroke-width="0">−4</text>
<line x1="388.3" y1="256.7" x2="388.3" y2="258.3" stroke="#222" stroke-width="1.1"/>
<text x="388.3" y="264.86" font-size="4.6" text-anchor="middle" fill="#333" stroke="#333" stroke-width="0">−2</text>
<line x1="432.6" y1="256.7" x2="432.6" y2="258.3" stroke="#222" stroke-width="1.1"/>
<text x="432.6" y="264.86" font-size="4.6" text-anchor="middle" fill="#333" stroke="#333" stroke-width="0">0</text>
<line x1="476.9" y1="256.7" x2="476.9" y2="258.3" stroke="#222" stroke-width="1.1"/>
<text x="476.9" y="264.86" font-size="4.6" text-anchor="middle" fill="#333" stroke="#333" stroke-width="0">2</text>
<line x1="313.1" y1="179" x2="314.7" y2="179" stroke="#222" stroke-width="1.1"/>
<text x="310.3" y="179" font-size="4.6" text-anchor="middle" fill="#444" transform="rotate(-90 310.3 179) translate(0 1.6)" stroke="#444" stroke-width="0">2</text>
<line x1="313.1" y1="200" x2="314.7" y2="200" stroke="#222" stroke-width="1.1"/>
<text x="310.3" y="200" font-size="4.6" text-anchor="middle" fill="#444" transform="rotate(-90 310.3 200) translate(0 1.6)" stroke="#444" stroke-width="0">0</text>
<line x1="313.1" y1="221" x2="314.7" y2="221" stroke="#222" stroke-width="1.1"/>
<text x="310.3" y="221" font-size="4.6" text-anchor="middle" fill="#444" transform="rotate(-90 310.3 221) translate(0 1.6)" stroke="#444" stroke-width="0">−2</text>
<line x1="313.1" y1="242" x2="314.7" y2="242" stroke="#222" stroke-width="1.1"/>
<text x="310.3" y="242" font-size="4.6" text-anchor="middle" fill="#444" transform="rotate(-90 310.3 242) translate(0 1.6)" stroke="#444" stroke-width="0">−4</text>
<text x="411" y="274.14" font-size="5.4" text-anchor="middle" fill="#222" stroke="#222" stroke-width="0">Comutation from multi−cancer model</text>
<text x="300.4" y="212.5" font-size="5.4" text-anchor="middle" fill="#222" transform="rotate(-90 300.4 212.5) translate(0 1.9)" stroke="#222" stroke-width="0">Cross−TMB average</text>
<circle cx="473.2" cy="218.9" r="1.6" fill="#5f5b94" stroke="none" stroke-width="0"/>
<text x="479.6" y="220.52" font-size="4.5" text-anchor="start" fill="#333" stroke="#333" stroke-width="0">CRC</text>
<circle cx="473.2" cy="225.52" r="1.6" fill="#b51f82" stroke="none" stroke-width="0"/>
<text x="479.6" y="227.14" font-size="4.5" text-anchor="start" fill="#333" stroke="#333" stroke-width="0">Melanoma</text>
<circle cx="473.2" cy="232.14" r="1.6" fill="#16805f" stroke="none" stroke-width="0"/>
<text x="479.6" y="233.76" font-size="4.5" text-anchor="start" fill="#333" stroke="#333" stroke-width="0">NSCLC</text>
<circle cx="473.2" cy="238.76" r="1.6" fill="#cc563a" stroke="none" stroke-width="0"/>
<text x="479.6" y="240.38" font-size="4.5" text-anchor="start" fill="#333" stroke="#333" stroke-width="0">Pancreatic</text>
<circle cx="473.2" cy="245.38" r="1.6" fill="#cbb45a" stroke="none" stroke-width="0"/>
<text x="479.6" y="247" font-size="4.5" text-anchor="start" fill="#333" stroke="#333" stroke-width="0">Uterine</text>
<rect x="45.6" y="305.7" width="90.8" height="76.7" fill="#fff" stroke="none" stroke-width="0"/>
<line x1="45.6" y1="311.7" x2="136.4" y2="311.7" stroke="#f6f6f6" stroke-width="0.5"/>
<line x1="45.6" y1="322.5" x2="136.4" y2="322.5" stroke="#f6f6f6" stroke-width="0.5"/>
<line x1="45.6" y1="333.3" x2="136.4" y2="333.3" stroke="#f6f6f6" stroke-width="0.5"/>
<line x1="45.6" y1="344.1" x2="136.4" y2="344.1" stroke="#f6f6f6" stroke-width="0.5"/>
<line x1="45.6" y1="354.9" x2="136.4" y2="354.9" stroke="#f6f6f6" stroke-width="0.5"/>
<line x1="45.6" y1="365.8" x2="136.4" y2="365.8" stroke="#f6f6f6" stroke-width="0.5"/>
<line x1="45.6" y1="376.6" x2="136.4" y2="376.6" stroke="#f6f6f6" stroke-width="0.5"/>
<line x1="87.95" y1="305.7" x2="87.95" y2="382.4" stroke="#8a8a8a" stroke-width="0.8" stroke-dasharray="2.8 2.2"/>
<line x1="55.15" y1="382.6" x2="55.15" y2="384.3" stroke="#222" stroke-width="1.1"/>
<text x="55.15" y="389.69" font-size="4.7" text-anchor="middle" fill="#333" stroke="#333" stroke-width="0">−2</text>
<line x1="71.55" y1="382.6" x2="71.55" y2="384.3" stroke="#222" stroke-width="1.1"/>
<text x="71.55" y="389.69" font-size="4.7" text-anchor="middle" fill="#333" stroke="#333" stroke-width="0">−1</text>
<line x1="87.95" y1="382.6" x2="87.95" y2="384.3" stroke="#222" stroke-width="1.1"/>
<text x="87.95" y="389.69" font-size="4.7" text-anchor="middle" fill="#333" stroke="#333" stroke-width="0">0</text>
<line x1="104.35" y1="382.6" x2="104.35" y2="384.3" stroke="#222" stroke-width="1.1"/>
<text x="104.35" y="389.69" font-size="4.7" text-anchor="middle" fill="#333" stroke="#333" stroke-width="0">1</text>
<line x1="120.75" y1="382.6" x2="120.75" y2="384.3" stroke="#222" stroke-width="1.1"/>
<text x="120.75" y="389.69" font-size="4.7" text-anchor="middle" fill="#333" stroke="#333" stroke-width="0">2</text>
<text x="91" y="301.35" font-size="5.15" text-anchor="middle" fill="#222" stroke="#222" stroke-width="0">KEAP1 in NSCLC</text>
<text x="135.3" y="313.1" font-size="3.9" text-anchor="end" fill="#333" stroke="#333" stroke-width="0">441</text>
<text x="135.3" y="323.9" font-size="3.9" text-anchor="end" fill="#333" stroke="#333" stroke-width="0">628</text>
<text x="135.3" y="334.7" font-size="3.9" text-anchor="end" fill="#333" stroke="#333" stroke-width="0">766</text>
<text x="135.3" y="345.5" font-size="3.9" text-anchor="end" fill="#333" stroke="#333" stroke-width="0">1,241</text>
<text x="135.3" y="367.2" font-size="3.9" text-anchor="end" fill="#333" stroke="#333" stroke-width="0">3,720</text>
<text x="135.3" y="378" font-size="3.9" text-anchor="end" fill="#333" stroke="#333" stroke-width="0">3,016</text>
<line x1="84" y1="311.7" x2="118.6" y2="311.7" stroke="#1d9a78" stroke-width="1.2"/>
<circle cx="84" cy="311.7" r="0.75" fill="#333" stroke="none" stroke-width="0"/>
<circle cx="118.6" cy="311.7" r="0.75" fill="#333" stroke="none" stroke-width="0"/>
<circle cx="101.4" cy="311.7" r="1.6" fill="#fff" stroke="#1d9a78" stroke-width="0.85"/>
<line x1="96.6" y1="322.5" x2="115.4" y2="322.5" stroke="#1d9a78" stroke-width="1.2"/>
<circle cx="96.6" cy="322.5" r="0.75" fill="#333" stroke="none" stroke-width="0"/>
<circle cx="115.4" cy="322.5" r="0.75" fill="#333" stroke="none" stroke-width="0"/>
<circle cx="106.4" cy="322.5" r="1.6" fill="#fff" stroke="#1d9a78" stroke-width="0.85"/>
<line x1="92" y1="333.3" x2="104.6" y2="333.3" stroke="#1d9a78" stroke-width="1.2"/>
<circle cx="92" cy="333.3" r="0.75" fill="#333" stroke="none" stroke-width="0"/>
<circle cx="104.6" cy="333.3" r="0.75" fill="#333" stroke="none" stroke-width="0"/>
<circle cx="98.4" cy="333.3" r="1.6" fill="#fff" stroke="#1d9a78" stroke-width="0.85"/>
<line x1="81" y1="344.1" x2="90.6" y2="344.1" stroke="#1d9a78" stroke-width="1.2"/>
<circle cx="81" cy="344.1" r="0.75" fill="#333" stroke="none" stroke-width="0"/>
<circle cx="90.6" cy="344.1" r="0.75" fill="#333" stroke="none" stroke-width="0"/>
<circle cx="86" cy="344.1" r="1.6" fill="#fff" stroke="#1d9a78" stroke-width="0.85"/>
<line x1="94" y1="365.8" x2="101.4" y2="365.8" stroke="#1d9a78" stroke-width="1.2"/>
<circle cx="94" cy="365.8" r="0.75" fill="#333" stroke="none" stroke-width="0"/>
<circle cx="101.4" cy="365.8" r="0.75" fill="#333" stroke="none" stroke-width="0"/>
<circle cx="97.4" cy="365.8" r="1.6" fill="#fff" stroke="#1d9a78" stroke-width="0.85"/>
<line x1="80.4" y1="376.6" x2="114" y2="376.6" stroke="#1d9a78" stroke-width="1.2"/>
<circle cx="80.4" cy="376.6" r="0.75" fill="#333" stroke="none" stroke-width="0"/>
<circle cx="114" cy="376.6" r="0.75" fill="#333" stroke="none" stroke-width="0"/>
<circle cx="98" cy="376.6" r="1.6" fill="#fff" stroke="#1d9a78" stroke-width="0.85"/>
<line x1="45.6" y1="360.3" x2="136.4" y2="360.3" stroke="#000" stroke-width="1.5"/>
<rect x="45.6" y="305.7" width="90.8" height="76.7" fill="none" stroke="#c9c9c9" stroke-width="1"/>
<rect x="139.95" y="305.7" width="90.8" height="76.7" fill="#fff" stroke="none" stroke-width="0"/>
<line x1="139.95" y1="311.7" x2="230.75" y2="311.7" stroke="#f6f6f6" stroke-width="0.5"/>
<line x1="139.95" y1="322.5" x2="230.75" y2="322.5" stroke="#f6f6f6" stroke-width="0.5"/>
<line x1="139.95" y1="333.3" x2="230.75" y2="333.3" stroke="#f6f6f6" stroke-width="0.5"/>
<line x1="139.95" y1="344.1" x2="230.75" y2="344.1" stroke="#f6f6f6" stroke-width="0.5"/>
<line x1="139.95" y1="354.9" x2="230.75" y2="354.9" stroke="#f6f6f6" stroke-width="0.5"/>
<line x1="139.95" y1="365.8" x2="230.75" y2="365.8" stroke="#f6f6f6" stroke-width="0.5"/>
<line x1="139.95" y1="376.6" x2="230.75" y2="376.6" stroke="#f6f6f6" stroke-width="0.5"/>
<line x1="182.3" y1="305.7" x2="182.3" y2="382.4" stroke="#8a8a8a" stroke-width="0.8" stroke-dasharray="2.8 2.2"/>
<line x1="149.5" y1="382.6" x2="149.5" y2="384.3" stroke="#222" stroke-width="1.1"/>
<text x="149.5" y="389.69" font-size="4.7" text-anchor="middle" fill="#333" stroke="#333" stroke-width="0">−2</text>
<line x1="165.9" y1="382.6" x2="165.9" y2="384.3" stroke="#222" stroke-width="1.1"/>
<text x="165.9" y="389.69" font-size="4.7" text-anchor="middle" fill="#333" stroke="#333" stroke-width="0">−1</text>
<line x1="182.3" y1="382.6" x2="182.3" y2="384.3" stroke="#222" stroke-width="1.1"/>
<text x="182.3" y="389.69" font-size="4.7" text-anchor="middle" fill="#333" stroke="#333" stroke-width="0">0</text>
<line x1="198.7" y1="382.6" x2="198.7" y2="384.3" stroke="#222" stroke-width="1.1"/>
<text x="198.7" y="389.69" font-size="4.7" text-anchor="middle" fill="#333" stroke="#333" stroke-width="0">1</text>
<line x1="215.1" y1="382.6" x2="215.1" y2="384.3" stroke="#222" stroke-width="1.1"/>
<text x="215.1" y="389.69" font-size="4.7" text-anchor="middle" fill="#333" stroke="#333" stroke-width="0">2</text>
<text x="185.2" y="301.35" font-size="5.15" text-anchor="middle" fill="#222" stroke="#222" stroke-width="0">STK11 in NSCLC</text>
<text x="229.65" y="313.1" font-size="3.9" text-anchor="end" fill="#333" stroke="#333" stroke-width="0">441</text>
<text x="229.65" y="323.9" font-size="3.9" text-anchor="end" fill="#333" stroke="#333" stroke-width="0">628</text>
<text x="229.65" y="334.7" font-size="3.9" text-anchor="end" fill="#333" stroke="#333" stroke-width="0">765</text>
<text x="229.65" y="345.5" font-size="3.9" text-anchor="end" fill="#333" stroke="#333" stroke-width="0">1,237</text>
<text x="229.65" y="367.2" font-size="3.9" text-anchor="end" fill="#333" stroke="#333" stroke-width="0">3,840</text>
<text x="229.65" y="378" font-size="3.9" text-anchor="end" fill="#333" stroke="#333" stroke-width="0">4,071</text>
<line x1="194.6" y1="311.7" x2="225.4" y2="311.7" stroke="#1d9a78" stroke-width="1.2"/>
<circle cx="194.6" cy="311.7" r="0.75" fill="#333" stroke="none" stroke-width="0"/>
<circle cx="225.4" cy="311.7" r="0.75" fill="#333" stroke="none" stroke-width="0"/>
<circle cx="209.4" cy="311.7" r="1.6" fill="#fff" stroke="#1d9a78" stroke-width="0.85"/>
<line x1="200.6" y1="322.5" x2="217.4" y2="322.5" stroke="#1d9a78" stroke-width="1.2"/>
<circle cx="200.6" cy="322.5" r="0.75" fill="#333" stroke="none" stroke-width="0"/>
<circle cx="217.4" cy="322.5" r="0.75" fill="#333" stroke="none" stroke-width="0"/>
<circle cx="208.4" cy="322.5" r="1.6" fill="#fff" stroke="#1d9a78" stroke-width="0.85"/>
<line x1="200.6" y1="333.3" x2="212.6" y2="333.3" stroke="#1d9a78" stroke-width="1.2"/>
<circle cx="200.6" cy="333.3" r="0.75" fill="#333" stroke="none" stroke-width="0"/>
<circle cx="212.6" cy="333.3" r="0.75" fill="#333" stroke="none" stroke-width="0"/>
<circle cx="206.6" cy="333.3" r="1.6" fill="#fff" stroke="#1d9a78" stroke-width="0.85"/>
<line x1="183" y1="344.1" x2="192.6" y2="344.1" stroke="#1d9a78" stroke-width="1.2"/>
<circle cx="183" cy="344.1" r="0.75" fill="#333" stroke="none" stroke-width="0"/>
<circle cx="192.6" cy="344.1" r="0.75" fill="#333" stroke="none" stroke-width="0"/>
<circle cx="187.4" cy="344.1" r="1.6" fill="#fff" stroke="#1d9a78" stroke-width="0.85"/>
<line x1="197.6" y1="365.8" x2="204" y2="365.8" stroke="#1d9a78" stroke-width="1.2"/>
<circle cx="197.6" cy="365.8" r="0.75" fill="#333" stroke="none" stroke-width="0"/>
<circle cx="204" cy="365.8" r="0.75" fill="#333" stroke="none" stroke-width="0"/>
<circle cx="200.6" cy="365.8" r="1.6" fill="#fff" stroke="#1d9a78" stroke-width="0.85"/>
<line x1="185.4" y1="376.6" x2="220.6" y2="376.6" stroke="#1d9a78" stroke-width="1.2"/>
<circle cx="185.4" cy="376.6" r="0.75" fill="#333" stroke="none" stroke-width="0"/>
<circle cx="220.6" cy="376.6" r="0.75" fill="#333" stroke="none" stroke-width="0"/>
<circle cx="202.6" cy="376.6" r="1.6" fill="#fff" stroke="#1d9a78" stroke-width="0.85"/>
<line x1="139.95" y1="360.3" x2="230.75" y2="360.3" stroke="#000" stroke-width="1.5"/>
<rect x="139.95" y="305.7" width="90.8" height="76.7" fill="none" stroke="#c9c9c9" stroke-width="1"/>
<rect x="234.3" y="305.7" width="90.8" height="76.7" fill="#fff" stroke="none" stroke-width="0"/>
<line x1="234.3" y1="311.7" x2="325.1" y2="311.7" stroke="#f6f6f6" stroke-width="0.5"/>
<line x1="234.3" y1="322.5" x2="325.1" y2="322.5" stroke="#f6f6f6" stroke-width="0.5"/>
<line x1="234.3" y1="333.3" x2="325.1" y2="333.3" stroke="#f6f6f6" stroke-width="0.5"/>
<line x1="234.3" y1="344.1" x2="325.1" y2="344.1" stroke="#f6f6f6" stroke-width="0.5"/>
<line x1="234.3" y1="354.9" x2="325.1" y2="354.9" stroke="#f6f6f6" stroke-width="0.5"/>
<line x1="234.3" y1="365.8" x2="325.1" y2="365.8" stroke="#f6f6f6" stroke-width="0.5"/>
<line x1="234.3" y1="376.6" x2="325.1" y2="376.6" stroke="#f6f6f6" stroke-width="0.5"/>
<line x1="276.65" y1="305.7" x2="276.65" y2="382.4" stroke="#8a8a8a" stroke-width="0.8" stroke-dasharray="2.8 2.2"/>
<line x1="243.85" y1="382.6" x2="243.85" y2="384.3" stroke="#222" stroke-width="1.1"/>
<text x="243.85" y="389.69" font-size="4.7" text-anchor="middle" fill="#333" stroke="#333" stroke-width="0">−2</text>
<line x1="260.25" y1="382.6" x2="260.25" y2="384.3" stroke="#222" stroke-width="1.1"/>
<text x="260.25" y="389.69" font-size="4.7" text-anchor="middle" fill="#333" stroke="#333" stroke-width="0">−1</text>
<line x1="276.65" y1="382.6" x2="276.65" y2="384.3" stroke="#222" stroke-width="1.1"/>
<text x="276.65" y="389.69" font-size="4.7" text-anchor="middle" fill="#333" stroke="#333" stroke-width="0">0</text>
<line x1="293.05" y1="382.6" x2="293.05" y2="384.3" stroke="#222" stroke-width="1.1"/>
<text x="293.05" y="389.69" font-size="4.7" text-anchor="middle" fill="#333" stroke="#333" stroke-width="0">1</text>
<line x1="309.45" y1="382.6" x2="309.45" y2="384.3" stroke="#222" stroke-width="1.1"/>
<text x="309.45" y="389.69" font-size="4.7" text-anchor="middle" fill="#333" stroke="#333" stroke-width="0">2</text>
<text x="279.5" y="301.35" font-size="5.15" text-anchor="middle" fill="#222" stroke="#222" stroke-width="0">TP53 in NSCLC</text>
<text x="324" y="313.1" font-size="3.9" text-anchor="end" fill="#333" stroke="#333" stroke-width="0">443</text>
<text x="324" y="323.9" font-size="3.9" text-anchor="end" fill="#333" stroke="#333" stroke-width="0">639</text>
<text x="324" y="334.7" font-size="3.9" text-anchor="end" fill="#333" stroke="#333" stroke-width="0">788</text>
<text x="324" y="345.5" font-size="3.9" text-anchor="end" fill="#333" stroke="#333" stroke-width="0">1,326</text>
<text x="324" y="367.2" font-size="3.9" text-anchor="end" fill="#333" stroke="#333" stroke-width="0">3,867</text>
<text x="324" y="378" font-size="3.9" text-anchor="end" fill="#333" stroke="#333" stroke-width="0">3,198</text>
<line x1="248.6" y1="311.7" x2="268" y2="311.7" stroke="#1d9a78" stroke-width="1.2"/>
<circle cx="248.6" cy="311.7" r="0.75" fill="#333" stroke="none" stroke-width="0"/>
<circle cx="268" cy="311.7" r="0.75" fill="#333" stroke="none" stroke-width="0"/>
<circle cx="258" cy="311.7" r="1.6" fill="#fff" stroke="#1d9a78" stroke-width="0.85"/>
<line x1="244.4" y1="322.5" x2="257.6" y2="322.5" stroke="#1d9a78" stroke-width="1.2"/>
<circle cx="244.4" cy="322.5" r="0.75" fill="#333" stroke="none" stroke-width="0"/>
<circle cx="257.6" cy="322.5" r="0.75" fill="#333" stroke="none" stroke-width="0"/>
<circle cx="251" cy="322.5" r="1.6" fill="#fff" stroke="#1d9a78" stroke-width="0.85"/>
<line x1="248.4" y1="333.3" x2="258.6" y2="333.3" stroke="#1d9a78" stroke-width="1.2"/>
<circle cx="248.4" cy="333.3" r="0.75" fill="#333" stroke="none" stroke-width="0"/>
<circle cx="258.6" cy="333.3" r="0.75" fill="#333" stroke="none" stroke-width="0"/>
<circle cx="253.6" cy="333.3" r="1.6" fill="#fff" stroke="#1d9a78" stroke-width="0.85"/>
<line x1="243" y1="344.1" x2="253" y2="344.1" stroke="#1d9a78" stroke-width="1.2"/>
<circle cx="243" cy="344.1" r="0.75" fill="#333" stroke="none" stroke-width="0"/>
<circle cx="253" cy="344.1" r="0.75" fill="#333" stroke="none" stroke-width="0"/>
<circle cx="248" cy="344.1" r="1.6" fill="#fff" stroke="#1d9a78" stroke-width="0.85"/>
<line x1="261" y1="365.8" x2="266" y2="365.8" stroke="#1d9a78" stroke-width="1.2"/>
<circle cx="261" cy="365.8" r="0.75" fill="#333" stroke="none" stroke-width="0"/>
<circle cx="266" cy="365.8" r="0.75" fill="#333" stroke="none" stroke-width="0"/>
<circle cx="263.4" cy="365.8" r="1.6" fill="#fff" stroke="#1d9a78" stroke-width="0.85"/>
<line x1="238" y1="376.6" x2="268" y2="376.6" stroke="#1d9a78" stroke-width="1.2"/>
<circle cx="238" cy="376.6" r="0.75" fill="#333" stroke="none" stroke-width="0"/>
<circle cx="268" cy="376.6" r="0.75" fill="#333" stroke="none" stroke-width="0"/>
<circle cx="252.6" cy="376.6" r="1.6" fill="#fff" stroke="#1d9a78" stroke-width="0.85"/>
<line x1="234.3" y1="360.3" x2="325.1" y2="360.3" stroke="#000" stroke-width="1.5"/>
<rect x="234.3" y="305.7" width="90.8" height="76.7" fill="none" stroke="#c9c9c9" stroke-width="1"/>
<rect x="328.65" y="305.7" width="90.8" height="76.7" fill="#fff" stroke="none" stroke-width="0"/>
<line x1="328.65" y1="311.7" x2="419.45" y2="311.7" stroke="#f6f6f6" stroke-width="0.5"/>
<line x1="328.65" y1="322.5" x2="419.45" y2="322.5" stroke="#f6f6f6" stroke-width="0.5"/>
<line x1="328.65" y1="333.3" x2="419.45" y2="333.3" stroke="#f6f6f6" stroke-width="0.5"/>
<line x1="328.65" y1="344.1" x2="419.45" y2="344.1" stroke="#f6f6f6" stroke-width="0.5"/>
<line x1="328.65" y1="354.9" x2="419.45" y2="354.9" stroke="#f6f6f6" stroke-width="0.5"/>
<line x1="328.65" y1="365.8" x2="419.45" y2="365.8" stroke="#f6f6f6" stroke-width="0.5"/>
<line x1="328.65" y1="376.6" x2="419.45" y2="376.6" stroke="#f6f6f6" stroke-width="0.5"/>
<line x1="371" y1="305.7" x2="371" y2="382.4" stroke="#8a8a8a" stroke-width="0.8" stroke-dasharray="2.8 2.2"/>
<line x1="338.2" y1="382.6" x2="338.2" y2="384.3" stroke="#222" stroke-width="1.1"/>
<text x="338.2" y="389.69" font-size="4.7" text-anchor="middle" fill="#333" stroke="#333" stroke-width="0">−2</text>
<line x1="354.6" y1="382.6" x2="354.6" y2="384.3" stroke="#222" stroke-width="1.1"/>
<text x="354.6" y="389.69" font-size="4.7" text-anchor="middle" fill="#333" stroke="#333" stroke-width="0">−1</text>
<line x1="371" y1="382.6" x2="371" y2="384.3" stroke="#222" stroke-width="1.1"/>
<text x="371" y="389.69" font-size="4.7" text-anchor="middle" fill="#333" stroke="#333" stroke-width="0">0</text>
<line x1="387.4" y1="382.6" x2="387.4" y2="384.3" stroke="#222" stroke-width="1.1"/>
<text x="387.4" y="389.69" font-size="4.7" text-anchor="middle" fill="#333" stroke="#333" stroke-width="0">1</text>
<line x1="403.8" y1="382.6" x2="403.8" y2="384.3" stroke="#222" stroke-width="1.1"/>
<text x="403.8" y="389.69" font-size="4.7" text-anchor="middle" fill="#333" stroke="#333" stroke-width="0">2</text>
<text x="369.3" y="301.35" font-size="5.15" text-anchor="middle" fill="#222" stroke="#222" stroke-width="0">APC in CRC</text>
<text x="418.35" y="313.1" font-size="3.9" text-anchor="end" fill="#333" stroke="#333" stroke-width="0">145</text>
<text x="418.35" y="323.9" font-size="3.9" text-anchor="end" fill="#333" stroke="#333" stroke-width="0">584</text>
<text x="418.35" y="334.7" font-size="3.9" text-anchor="end" fill="#333" stroke="#333" stroke-width="0">1,093</text>
<text x="418.35" y="345.5" font-size="3.9" text-anchor="end" fill="#333" stroke="#333" stroke-width="0">945</text>
<text x="418.35" y="356.3" font-size="3.9" text-anchor="end" fill="#333" stroke="#333" stroke-width="0">218</text>
<text x="418.35" y="367.2" font-size="3.9" text-anchor="end" fill="#333" stroke="#333" stroke-width="0">3,320</text>
<text x="418.35" y="378" font-size="3.9" text-anchor="end" fill="#333" stroke="#333" stroke-width="0">2,366</text>
<line x1="347.6" y1="311.7" x2="370" y2="311.7" stroke="#5c58a6" stroke-width="1.2"/>
<circle cx="347.6" cy="311.7" r="0.75" fill="#333" stroke="none" stroke-width="0"/>
<circle cx="370" cy="311.7" r="0.75" fill="#333" stroke="none" stroke-width="0"/>
<circle cx="359.4" cy="311.7" r="1.6" fill="#fff" stroke="#5c58a6" stroke-width="0.85"/>
<line x1="358.4" y1="322.5" x2="370.6" y2="322.5" stroke="#5c58a6" stroke-width="1.2"/>
<circle cx="358.4" cy="322.5" r="0.75" fill="#333" stroke="none" stroke-width="0"/>
<circle cx="370.6" cy="322.5" r="0.75" fill="#333" stroke="none" stroke-width="0"/>
<circle cx="364.6" cy="322.5" r="1.6" fill="#fff" stroke="#5c58a6" stroke-width="0.85"/>
<line x1="368" y1="333.3" x2="379.4" y2="333.3" stroke="#5c58a6" stroke-width="1.2"/>
<circle cx="368" cy="333.3" r="0.75" fill="#333" stroke="none" stroke-width="0"/>
<circle cx="379.4" cy="333.3" r="0.75" fill="#333" stroke="none" stroke-width="0"/>
<circle cx="373.4" cy="333.3" r="1.6" fill="#fff" stroke="#5c58a6" stroke-width="0.85"/>
<line x1="381" y1="344.1" x2="392.6" y2="344.1" stroke="#5c58a6" stroke-width="1.2"/>
<circle cx="381" cy="344.1" r="0.75" fill="#333" stroke="none" stroke-width="0"/>
<circle cx="392.6" cy="344.1" r="0.75" fill="#333" stroke="none" stroke-width="0"/>
<circle cx="386.6" cy="344.1" r="1.6" fill="#fff" stroke="#5c58a6" stroke-width="0.85"/>
<line x1="368" y1="354.9" x2="386.6" y2="354.9" stroke="#5c58a6" stroke-width="1.2"/>
<circle cx="368" cy="354.9" r="0.75" fill="#333" stroke="none" stroke-width="0"/>
<circle cx="386.6" cy="354.9" r="0.75" fill="#333" stroke="none" stroke-width="0"/>
<circle cx="377" cy="354.9" r="1.6" fill="#fff" stroke="#5c58a6" stroke-width="0.85"/>
<line x1="375" y1="365.8" x2="380.6" y2="365.8" stroke="#5c58a6" stroke-width="1.2"/>
<circle cx="375" cy="365.8" r="0.75" fill="#333" stroke="none" stroke-width="0"/>
<circle cx="380.6" cy="365.8" r="0.75" fill="#333" stroke="none" stroke-width="0"/>
<circle cx="377.6" cy="365.8" r="1.6" fill="#fff" stroke="#5c58a6" stroke-width="0.85"/>
<line x1="361.6" y1="376.6" x2="382.6" y2="376.6" stroke="#5c58a6" stroke-width="1.2"/>
<circle cx="361.6" cy="376.6" r="0.75" fill="#333" stroke="none" stroke-width="0"/>
<circle cx="382.6" cy="376.6" r="0.75" fill="#333" stroke="none" stroke-width="0"/>
<circle cx="372.6" cy="376.6" r="1.6" fill="#fff" stroke="#5c58a6" stroke-width="0.85"/>
<line x1="328.65" y1="360.3" x2="419.45" y2="360.3" stroke="#000" stroke-width="1.5"/>
<rect x="328.65" y="305.7" width="90.8" height="76.7" fill="none" stroke="#c9c9c9" stroke-width="1"/>
<rect x="423" y="305.7" width="90.8" height="76.7" fill="#fff" stroke="none" stroke-width="0"/>
<line x1="423" y1="311.7" x2="513.8" y2="311.7" stroke="#f6f6f6" stroke-width="0.5"/>
<line x1="423" y1="322.5" x2="513.8" y2="322.5" stroke="#f6f6f6" stroke-width="0.5"/>
<line x1="423" y1="333.3" x2="513.8" y2="333.3" stroke="#f6f6f6" stroke-width="0.5"/>
<line x1="423" y1="344.1" x2="513.8" y2="344.1" stroke="#f6f6f6" stroke-width="0.5"/>
<line x1="423" y1="354.9" x2="513.8" y2="354.9" stroke="#f6f6f6" stroke-width="0.5"/>
<line x1="423" y1="365.8" x2="513.8" y2="365.8" stroke="#f6f6f6" stroke-width="0.5"/>
<line x1="423" y1="376.6" x2="513.8" y2="376.6" stroke="#f6f6f6" stroke-width="0.5"/>
<line x1="465.35" y1="305.7" x2="465.35" y2="382.4" stroke="#8a8a8a" stroke-width="0.8" stroke-dasharray="2.8 2.2"/>
<line x1="432.55" y1="382.6" x2="432.55" y2="384.3" stroke="#222" stroke-width="1.1"/>
<text x="432.55" y="389.69" font-size="4.7" text-anchor="middle" fill="#333" stroke="#333" stroke-width="0">−2</text>
<line x1="448.95" y1="382.6" x2="448.95" y2="384.3" stroke="#222" stroke-width="1.1"/>
<text x="448.95" y="389.69" font-size="4.7" text-anchor="middle" fill="#333" stroke="#333" stroke-width="0">−1</text>
<line x1="465.35" y1="382.6" x2="465.35" y2="384.3" stroke="#222" stroke-width="1.1"/>
<text x="465.35" y="389.69" font-size="4.7" text-anchor="middle" fill="#333" stroke="#333" stroke-width="0">0</text>
<line x1="481.75" y1="382.6" x2="481.75" y2="384.3" stroke="#222" stroke-width="1.1"/>
<text x="481.75" y="389.69" font-size="4.7" text-anchor="middle" fill="#333" stroke="#333" stroke-width="0">1</text>
<line x1="498.15" y1="382.6" x2="498.15" y2="384.3" stroke="#222" stroke-width="1.1"/>
<text x="498.15" y="389.69" font-size="4.7" text-anchor="middle" fill="#333" stroke="#333" stroke-width="0">2</text>
<text x="462.3" y="301.35" font-size="5.15" text-anchor="middle" fill="#222" stroke="#222" stroke-width="0">TP53 in CRC</text>
<text x="512.7" y="313.1" font-size="3.9" text-anchor="end" fill="#333" stroke="#333" stroke-width="0">138</text>
<text x="512.7" y="323.9" font-size="3.9" text-anchor="end" fill="#333" stroke="#333" stroke-width="0">498</text>
<text x="512.7" y="334.7" font-size="3.9" text-anchor="end" fill="#333" stroke="#333" stroke-width="0">830</text>
<text x="512.7" y="345.5" font-size="3.9" text-anchor="end" fill="#333" stroke="#333" stroke-width="0">672</text>
<text x="512.7" y="356.3" font-size="3.9" text-anchor="end" fill="#333" stroke="#333" stroke-width="0">172</text>
<text x="512.7" y="367.2" font-size="3.9" text-anchor="end" fill="#333" stroke="#333" stroke-width="0">2,639</text>
<text x="512.7" y="378" font-size="3.9" text-anchor="end" fill="#333" stroke="#333" stroke-width="0">2,306</text>
<line x1="431.6" y1="311.7" x2="457" y2="311.7" stroke="#5c58a6" stroke-width="1.2"/>
<circle cx="431.6" cy="311.7" r="0.75" fill="#333" stroke="none" stroke-width="0"/>
<circle cx="457" cy="311.7" r="0.75" fill="#333" stroke="none" stroke-width="0"/>
<circle cx="444.4" cy="311.7" r="1.6" fill="#fff" stroke="#5c58a6" stroke-width="0.85"/>
<line x1="432.4" y1="322.5" x2="448.6" y2="322.5" stroke="#5c58a6" stroke-width="1.2"/>
<circle cx="432.4" cy="322.5" r="0.75" fill="#333" stroke="none" stroke-width="0"/>
<circle cx="448.6" cy="322.5" r="0.75" fill="#333" stroke="none" stroke-width="0"/>
<circle cx="441" cy="322.5" r="1.6" fill="#fff" stroke="#5c58a6" stroke-width="0.85"/>
<line x1="439.6" y1="333.3" x2="451.6" y2="333.3" stroke="#5c58a6" stroke-width="1.2"/>
<circle cx="439.6" cy="333.3" r="0.75" fill="#333" stroke="none" stroke-width="0"/>
<circle cx="451.6" cy="333.3" r="0.75" fill="#333" stroke="none" stroke-width="0"/>
<circle cx="445.6" cy="333.3" r="1.6" fill="#fff" stroke="#5c58a6" stroke-width="0.85"/>
<line x1="451.4" y1="344.1" x2="459" y2="344.1" stroke="#5c58a6" stroke-width="1.2"/>
<circle cx="451.4" cy="344.1" r="0.75" fill="#333" stroke="none" stroke-width="0"/>
<circle cx="459" cy="344.1" r="0.75" fill="#333" stroke="none" stroke-width="0"/>
<circle cx="457" cy="344.1" r="1.6" fill="#fff" stroke="#5c58a6" stroke-width="0.85"/>
<line x1="447.6" y1="354.9" x2="469" y2="354.9" stroke="#5c58a6" stroke-width="1.2"/>
<circle cx="447.6" cy="354.9" r="0.75" fill="#333" stroke="none" stroke-width="0"/>
<circle cx="469" cy="354.9" r="0.75" fill="#333" stroke="none" stroke-width="0"/>
<circle cx="458" cy="354.9" r="1.6" fill="#fff" stroke="#5c58a6" stroke-width="0.85"/>
<line x1="453" y1="365.8" x2="458" y2="365.8" stroke="#5c58a6" stroke-width="1.2"/>
<circle cx="453" cy="365.8" r="0.75" fill="#333" stroke="none" stroke-width="0"/>
<circle cx="458" cy="365.8" r="0.75" fill="#333" stroke="none" stroke-width="0"/>
<circle cx="455" cy="365.8" r="1.6" fill="#fff" stroke="#5c58a6" stroke-width="0.85"/>
<line x1="435.6" y1="376.6" x2="463.4" y2="376.6" stroke="#5c58a6" stroke-width="1.2"/>
<circle cx="435.6" cy="376.6" r="0.75" fill="#333" stroke="none" stroke-width="0"/>
<circle cx="463.4" cy="376.6" r="0.75" fill="#333" stroke="none" stroke-width="0"/>
<circle cx="449" cy="376.6" r="1.6" fill="#fff" stroke="#5c58a6" stroke-width="0.85"/>
<line x1="423" y1="360.3" x2="513.8" y2="360.3" stroke="#000" stroke-width="1.5"/>
<rect x="423" y="305.7" width="90.8" height="76.7" fill="none" stroke="#c9c9c9" stroke-width="1"/>
<text x="41.5" y="313.68" font-size="5.5" text-anchor="end" fill="#222" stroke="#222" stroke-width="0">(1−1.41]</text>
<circle cx="44.5" cy="311.7" r="0.8" fill="#111" stroke="none" stroke-width="0"/>
<text x="41.5" y="324.48" font-size="5.5" text-anchor="end" fill="#222" stroke="#222" stroke-width="0">(1.41−2.07]</text>
<circle cx="44.5" cy="322.5" r="0.8" fill="#111" stroke="none" stroke-width="0"/>
<text x="41.5" y="335.28" font-size="5.5" text-anchor="end" fill="#222" stroke="#222" stroke-width="0">(2.15−3.74]</text>
<circle cx="44.5" cy="333.3" r="0.8" fill="#111" stroke="none" stroke-width="0"/>
<text x="41.5" y="346.08" font-size="5.5" text-anchor="end" fill="#222" stroke="#222" stroke-width="0">(3.95−39.9]</text>
<circle cx="44.5" cy="344.1" r="0.8" fill="#111" stroke="none" stroke-width="0"/>
<text x="41.5" y="356.88" font-size="5.5" text-anchor="end" fill="#222" stroke="#222" stroke-width="0">(40.07−64]</text>
<circle cx="44.5" cy="354.9" r="0.8" fill="#111" stroke="none" stroke-width="0"/>
<text x="41.5" y="367.78" font-size="5.5" text-anchor="end" fill="#222" stroke="#222" stroke-width="0">Multi−cancer</text>
<circle cx="44.5" cy="365.8" r="0.8" fill="#111" stroke="none" stroke-width="0"/>
<text x="41.5" y="378.58" font-size="5.5" text-anchor="end" fill="#222" stroke="#222" stroke-width="0">TMB−overall</text>
<circle cx="44.5" cy="376.6" r="0.8" fill="#111" stroke="none" stroke-width="0"/>
<line x1="45.6" y1="305.7" x2="45.6" y2="382.4" stroke="#9a9a9a" stroke-width="0.8"/>
<text x="4.1" y="340.6" font-size="7.1" text-anchor="middle" fill="#222" transform="rotate(-90 4.1 340.6) translate(0 2.5)" stroke="#222" stroke-width="0">TMB strata</text>
<text x="267.5" y="398.12" font-size="7" text-anchor="middle" fill="#222" stroke="#222" stroke-width="0">log odds ratio</text>
</svg>
</body></html>
